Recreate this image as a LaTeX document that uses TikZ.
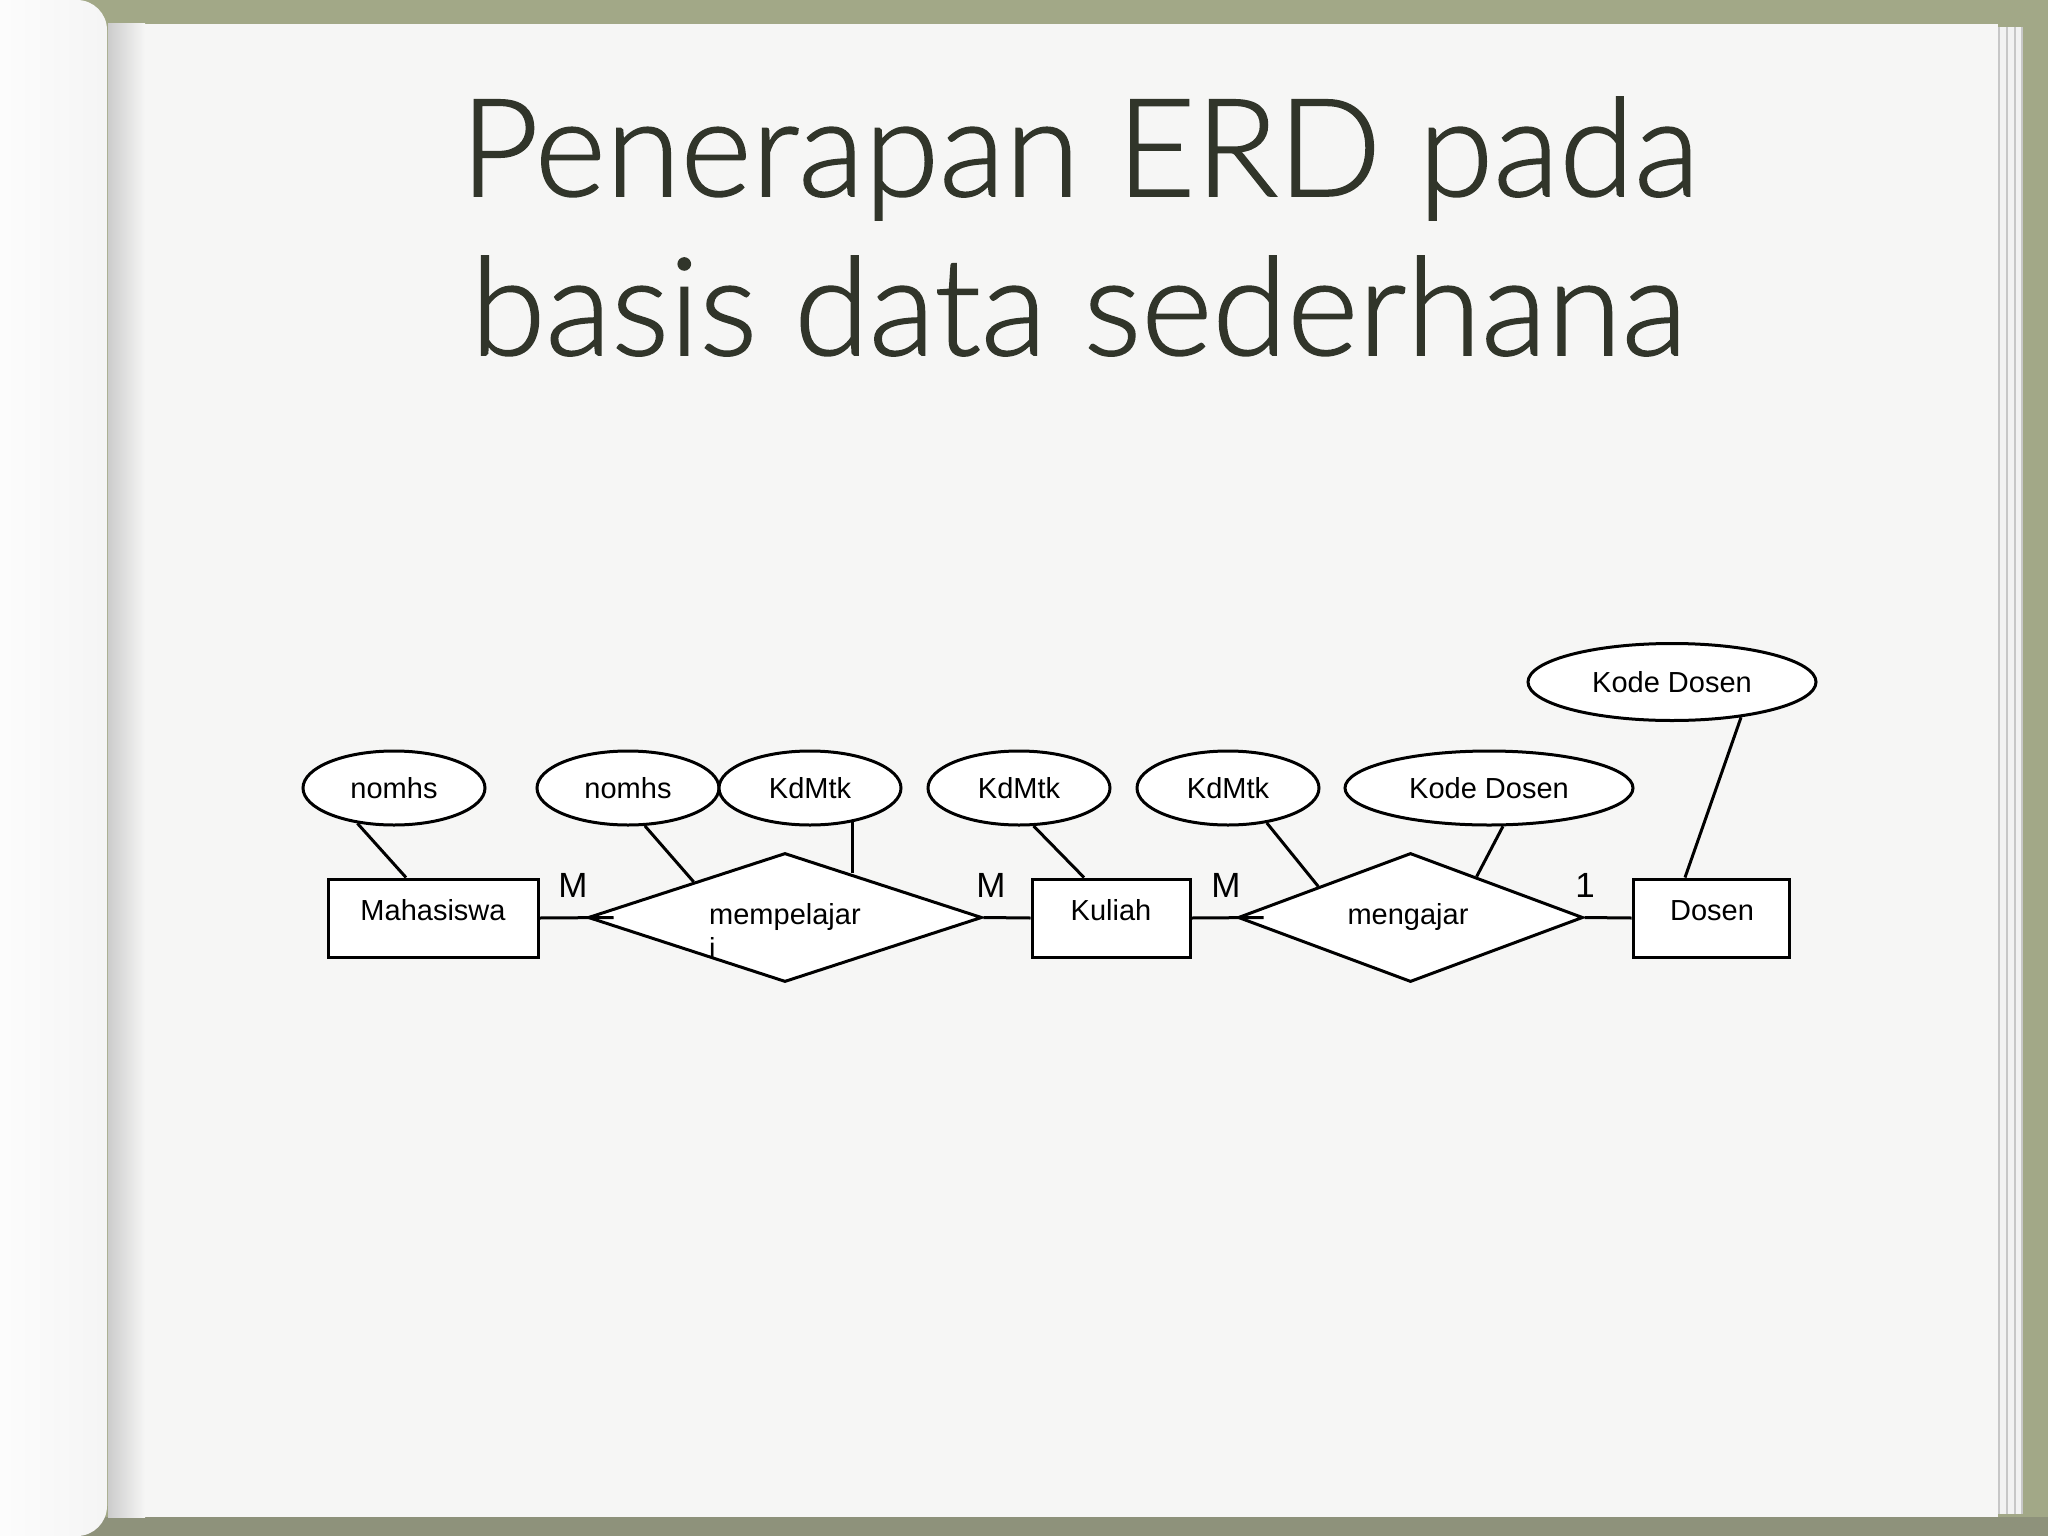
\documentclass[tikz,border=0pt]{standalone}
\usepackage{fontspec}
\usetikzlibrary{shapes.geometric,calc}
\newfontfamily\erdfont{Liberation Sans}
\newfontfamily\titlefont[FakeBold=1.2]{Lato Light}
\definecolor{bgreen}{HTML}{A2A887}
\definecolor{bdark}{HTML}{8E927B}
\definecolor{pagec}{HTML}{F6F6F5}
\definecolor{titlec}{HTML}{31352A}
\begin{document}
\begin{tikzpicture}[x=1pt,y=-1pt,
  attr/.style={ellipse,draw,line width=3pt,fill=white,minimum width=182pt,minimum height=74pt,inner sep=0pt,font=\erdfont\fontsize{29}{34}\selectfont},
  ent/.style={rectangle,draw,line width=3pt,fill=white,minimum height=78pt,inner sep=0pt},
  rel/.style={diamond,draw,line width=3pt,fill=white,minimum height=129pt,inner sep=0pt},
  txt/.style={font=\erdfont\fontsize{29}{34}\selectfont,inner sep=0pt},
  card/.style={font=\erdfont\fontsize{35}{40}\selectfont,inner sep=0pt},
  conn/.style={line width=3pt},
  ttl/.style={font=\titlefont\fontsize{136}{159}\selectfont,text=titlec,inner sep=0pt,anchor=base}]
\useasboundingbox (0,0) rectangle (2048,1536);
\begin{scope}
\clip (0,0) rectangle (2048,1536);
% background
\fill[bgreen] (0,0) rectangle (2048,1536);
\fill[bdark] (0,1517) rectangle (2048,1536);
\fill[pagec] (108,24) rectangle (1998,1517);
\shade[left color=black!20, right color=pagec] (108,24) rectangle (145,1517);
\fill[black!5] (1998,27) rectangle (2023,1514);
\foreach \xx in {1999,2007,2015,2022} \draw[black!22,line width=1.2pt] (\xx,27) -- (\xx,1514);
\shade[left color=white, middle color=black!11, right color=white!96!black, rounded corners=30pt] (-40,0) rectangle (107,1536);
\end{scope}
% title
\node[ttl] (t1) at (1080,196) {Penerapan ERD pada};
\node[ttl] (t2) at (1079,355) {basis data sederhana};
% entities
\node[ent,minimum width=210pt] (mhs) at (433,918) {};
\node[txt,anchor=base] (mhst) at (433,920) {Mahasiswa};
\node[ent,minimum width=158pt] (kul) at (1111,918) {};
\node[txt,anchor=base] (kult) at (1111,920) {Kuliah};
\node[ent,minimum width=156pt] (dos) at (1711,918) {};
\node[txt,anchor=base] (dost) at (1712,920) {Dosen};
% relationships
\node[rel,minimum width=394pt] (d1) at (785,917.5) {};
\node[rel,minimum width=345pt] (d2) at (1410.5,917.5) {};
\node[txt,anchor=base west] (d1t) at (709,924) {mempelajar};
\node[txt,anchor=base west] (d1u) at (709,958) {i};
\node[txt,anchor=base] (d2t) at (1408,924) {mengajar};
% attributes
\node[attr] (a1) at (394,788) {nomhs};
\node[attr] (a2) at (628,788) {nomhs};
\node[attr] (a3) at (810,788) {KdMtk};
\node[attr] (a4) at (1019,788) {KdMtk};
\node[attr] (a5) at (1228,788) {KdMtk};
\node[attr,minimum width=288pt] (a6) at (1489,788) {Kode Dosen};
\node[attr,minimum width=288pt,minimum height=77pt] (a7) at (1672,682) {Kode Dosen};
% connectors
\draw[conn] (a1.-136) -- ([xshift=-27pt]mhs.north);
\draw[conn] (a2.-66.6) -- ($(d1.west)!0.54!(d1.north)$);
\coordinate (k1) at ($(d1.north)!0.33!(d1.east)$);
\draw[conn] (a3.-39.5) -- (a3.-39.5 |- k1);
\draw[conn] (a4.-69) -- ([xshift=-27pt]kul.north);
\draw[conn] (a5.-42.8) -- ($(d2.west)!0.47!(d2.north)$);
\draw[conn] (a6.-70.6) -- ($(d2.north)!0.38!(d2.east)$);
\draw[conn] (a7.-27.5) -- ([xshift=-26pt]dos.north);
\draw[conn] (mhs.east) -- ($(d1.west)+(27,0)$);
\draw[conn] (d1.east) -- (kul.west);
\draw[conn] (kul.east) -- ($(d2.west)+(27,0)$);
\draw[conn] (d2.east) -- (dos.west);
% cardinalities
\node[card] (m1) at (573,885) {M};
\node[card] (m2) at (991,885) {M};
\node[card] (m3) at (1226,885) {M};
\node[card] (o1) at (1585,885) {1};
\end{tikzpicture}
\end{document}
